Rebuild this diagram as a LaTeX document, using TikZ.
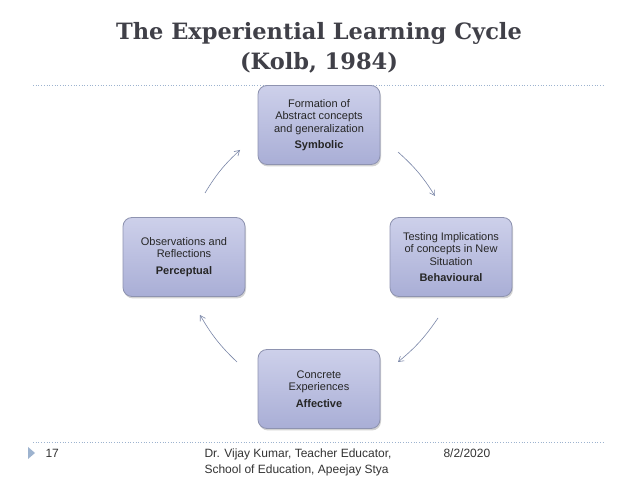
\documentclass[tikz,border=0pt]{standalone}
\usepackage{fontspec}
\setmainfont{Liberation Sans}
\newfontfamily\titlefont{DejaVu Serif}
\usetikzlibrary{shadows,arrows.meta}
\definecolor{boxtop}{HTML}{CDD0EA}
\definecolor{boxbot}{HTML}{A9AED6}
\definecolor{boxline}{HTML}{8E93B0}
\definecolor{arr}{HTML}{7A86A8}
\definecolor{titlec}{HTML}{404048}
\definecolor{dotc}{HTML}{9DB3CF}
\tikzset{
 stage/.style={draw=boxline, line width=0.8pt, rounded corners=9pt, minimum width=122pt, minimum height=79pt,
   top color=boxtop, bottom color=boxbot, align=center, font=\fontsize{11}{12.5}\selectfont, text=black!85,
   drop shadow={shadow xshift=1pt, shadow yshift=-2pt, opacity=0.35}},
 cyc/.style={draw=arr, line width=0.6pt, -{Straight Barb[length=5pt,width=6pt]}},
 sep/.style={draw=dotc, dotted, line width=0.7pt},
 foot/.style={font=\fontsize{12}{16}\selectfont, text=black!80}
}
\begin{document}
\begin{tikzpicture}[x=1pt,y=-1pt]
\useasboundingbox[fill=white] (0,0) rectangle (638,478);
\node[font=\titlefont\bfseries\fontsize{22.5}{30}\selectfont, text=titlec, align=center] (title) at (319,48) {The Experiential Learning Cycle\\(Kolb, 1984)};
\draw[sep] (33,85) -- (605,85);
\draw[sep] (33,442) -- (605,442);
\node[stage] (top) at (319,125) {Formation of\\Abstract concepts\\and generalization\\[4pt]\textbf{Symbolic}};
\node[stage] (right) at (451,257) {Testing Implications\\of concepts in New\\Situation\\[4pt]\textbf{Behavioural}};
\node[stage] (bot) at (319,389) {Concrete\\Experiences\\[4pt]\textbf{Affective}};
\node[stage] (left) at (184,257) {Observations and\\Reflections\\[4pt]\textbf{Perceptual}};
\coordinate (a1) at (205,193); \coordinate (a2) at (240,150);
\coordinate (b1) at (398,152); \coordinate (b2) at (435,196);
\coordinate (c1) at (438,318); \coordinate (c2) at (398,362);
\coordinate (d1) at (237,362); \coordinate (d2) at (200,315);
\draw[cyc] (a1) to[bend left=8] (a2);
\draw[cyc] (b1) to[bend left=8] (b2);
\draw[cyc] (c1) to[bend left=8] (c2);
\draw[cyc] (d1) to[bend left=8] (d2);
\fill[dotc] (28,447) -- (35,453) -- (28,459) -- cycle;
\node[foot, anchor=west] (num) at (42,453) {17};
\node[foot, align=left, anchor=north west] (auth) at (201,445) {Dr. Vijay Kumar, Teacher Educator,\\School of Education, Apeejay Stya};
\node[foot, anchor=west] (date) at (440,453) {8/2/2020};
\end{tikzpicture}
\end{document}
